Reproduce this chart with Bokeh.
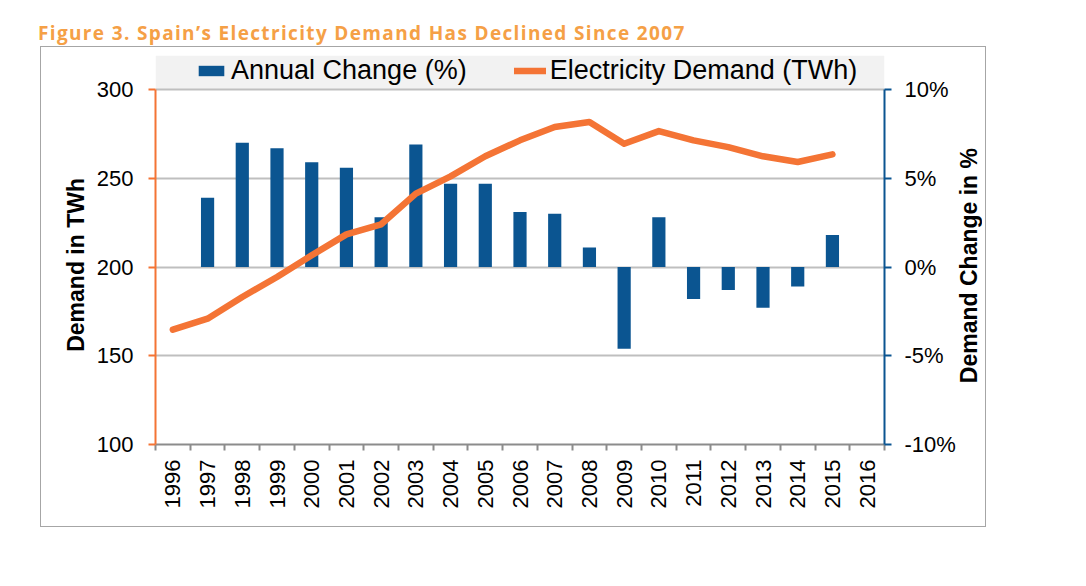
import math
from bokeh.plotting import figure
from bokeh.layouts import column, row
from bokeh.models import (Range1d, LinearAxis, FixedTicker, PrintfTickFormatter,
                          BoxAnnotation, Legend, LegendItem, Div)
from bokeh.embed import file_html
from bokeh.resources import INLINE

# ---- data ----
bar_years = [1997, 1998, 1999, 2000, 2001, 2002, 2003, 2004, 2005, 2006,
             2007, 2008, 2009, 2010, 2011, 2012, 2013, 2014, 2015]
annual_change_pct = [3.9, 7.0, 6.7, 5.9, 5.6, 2.8, 6.9, 4.7, 4.7, 3.1,
                     3.0, 1.1, -4.6, 2.8, -1.8, -1.3, -2.3, -1.1, 1.8]
line_years = [1996, 1997, 1998, 1999, 2000, 2001, 2002, 2003, 2004, 2005,
              2006, 2007, 2008, 2009, 2010, 2011, 2012, 2013, 2014, 2015]
demand_twh = [164.7, 170.9, 183.1, 194.4, 206.6, 218.4, 224.1, 241.4, 251.1, 262.4,
              271.4, 278.9, 281.7, 269.5, 276.6, 271.4, 267.6, 262.4, 259.2, 263.5]
axis_years = list(range(1996, 2017))
left_ticks = [100, 150, 200, 250, 300]
right_ticks = [-10, -5, 0, 5, 10]
legend_labels = ["Annual Change (%)", "Electricity Demand (TWh)"]

title_text = "Figure 3. Spain\u2019s Electricity Demand Has Declined Since 2007"
left_title = "Demand in TWh"
right_title = "Demand Change in %"

BLUE = "#0B5591"
ORANGE = "#F47435"
GRID = "#BFBFBF"
AXGRAY = "#8C8C8C"
FONT = "Liberation Sans"

# headroom above the top tick that holds the legend strip (in TWh units)
legend_room = 19.2
twh_per_pct = (left_ticks[-1] - left_ticks[0]) / (right_ticks[-1] - right_ticks[0])
zero_twh = left_ticks[0] - right_ticks[0] * twh_per_pct

BOX_H = 479
P_W = 867
p = figure(width=P_W, height=BOX_H, output_backend="svg", toolbar_location=None,
           x_range=Range1d(axis_years[0] - 0.5, axis_years[-1] + 0.5),
           y_range=Range1d(left_ticks[0], left_ticks[-1] + legend_room),
           min_border_left=64, min_border_right=72, min_border_top=8,
           min_border_bottom=82, background_fill_color="white",
           border_fill_color="white")
p.outline_line_color = None
p.margin = 0
p.extra_y_ranges = {"pct": Range1d(right_ticks[0],
                                   (left_ticks[-1] + legend_room - zero_twh) / twh_per_pct)}

# legend strip background
legbg = BoxAnnotation(bottom=left_ticks[-1], fill_color="#F2F2F2", fill_alpha=1,
                      line_color=None, level="image")
p.add_layout(legbg)

bars = p.vbar(x=bar_years, top=annual_change_pct, bottom=0, width=0.38,
              y_range_name="pct", fill_color=BLUE, line_color=None)
line = p.line(x=line_years, y=demand_twh, line_color=ORANGE, line_width=6.5,
              line_cap="round", line_join="round")

# x axis
xa = p.xaxis[0]
xa.ticker = FixedTicker(ticks=axis_years,
                        minor_ticks=[y - 0.5 for y in axis_years] + [axis_years[-1] + 0.5])
xa.formatter = PrintfTickFormatter(format="%d")
xa.major_tick_out = 0
xa.major_tick_in = 0
xa.minor_tick_out = 6
xa.minor_tick_in = 0
xa.minor_tick_line_color = AXGRAY
xa.minor_tick_line_width = 2
xa.axis_line_color = AXGRAY
xa.axis_line_width = 2
xa.major_label_orientation = math.pi / 2
xa.major_label_text_font = FONT
xa.major_label_text_font_size = "22px"
xa.major_label_text_color = "black"
xa.major_label_standoff = 9

# left axis
ya = p.yaxis[0]
ya.bounds = (left_ticks[0], left_ticks[-1])
ya.ticker = FixedTicker(ticks=left_ticks, minor_ticks=[])
ya.axis_line_color = ORANGE
ya.axis_line_width = 2
ya.major_tick_out = 7
ya.major_tick_in = 0
ya.major_tick_line_color = ORANGE
ya.major_tick_line_width = 2
ya.major_label_text_font = FONT
ya.major_label_text_font_size = "22px"
ya.major_label_text_color = "black"
ya.major_label_standoff = 15

# right axis
ra = LinearAxis(y_range_name="pct", bounds=(right_ticks[0], right_ticks[-1]),
                ticker=FixedTicker(ticks=right_ticks, minor_ticks=[]),
                formatter=PrintfTickFormatter(format="%d%%"))
ra.axis_line_color = BLUE
ra.axis_line_width = 2
ra.major_tick_out = 7
ra.major_tick_in = 0
ra.major_tick_line_color = BLUE
ra.major_tick_line_width = 2
ra.major_label_text_font = FONT
ra.major_label_text_font_size = "22px"
ra.major_label_text_color = "black"
ra.major_label_standoff = 13
p.add_layout(ra, "right")

# grid
p.xgrid.visible = False
p.ygrid[0].ticker = FixedTicker(ticks=left_ticks, minor_ticks=[])
p.ygrid.grid_line_color = GRID
p.ygrid.grid_line_width = 2

legend = Legend(items=[LegendItem(label=legend_labels[0], renderers=[bars]),
                       LegendItem(label=legend_labels[1], renderers=[line])],
                orientation="horizontal", location=(40, 358),
                glyph_width=32, glyph_height=13, label_standoff=4, spacing=47,
                padding=0, margin=0, background_fill_alpha=0, border_line_alpha=0,
                label_text_font=FONT, label_text_font_size="27px",
                label_text_color="black")
p.add_layout(legend, "center")


def vertical_title(text, div_w, left, box_h):
    html = ("<div style=\"position:relative; width:%dpx; height:%dpx;\">"
            "<div style=\"position:absolute; left:%.1fpx; top:0px; width:23px; height:%dpx;"
            " display:flex; align-items:center; justify-content:center;\">"
            "<span style=\"writing-mode:vertical-rl; transform:rotate(180deg);"
            " font-family:'Liberation Sans'; font-weight:bold; font-size:23px;"
            " line-height:23px; color:black; white-space:nowrap;\">%s</span></div></div>"
            % (div_w, BOX_H, left, box_h, text))
    return Div(text=html, width=div_w, height=BOX_H, margin=0)


lt = vertical_title(left_title, 50, 23.7, 435)
rt = vertical_title(right_title, 27, 0, 437)

box = row(lt, p, rt, spacing=0)
box.styles = {"border": "1.5px solid #A6A6A6"}
box.margin = (0, 0, 0, 40)

title = Div(text=("<div style=\"font-family:'Open Sans'; font-weight:bold; font-size:19px;"
                  " letter-spacing:1.35px; color:#F5A046; line-height:19px;"
                  " margin-top:24px; margin-left:38px; white-space:nowrap;\">"
                  + title_text + "</div>"),
            width=1000, height=46, margin=0)

layout = column(title, box, spacing=0)
open("out.html", "w").write(file_html(layout, INLINE))
